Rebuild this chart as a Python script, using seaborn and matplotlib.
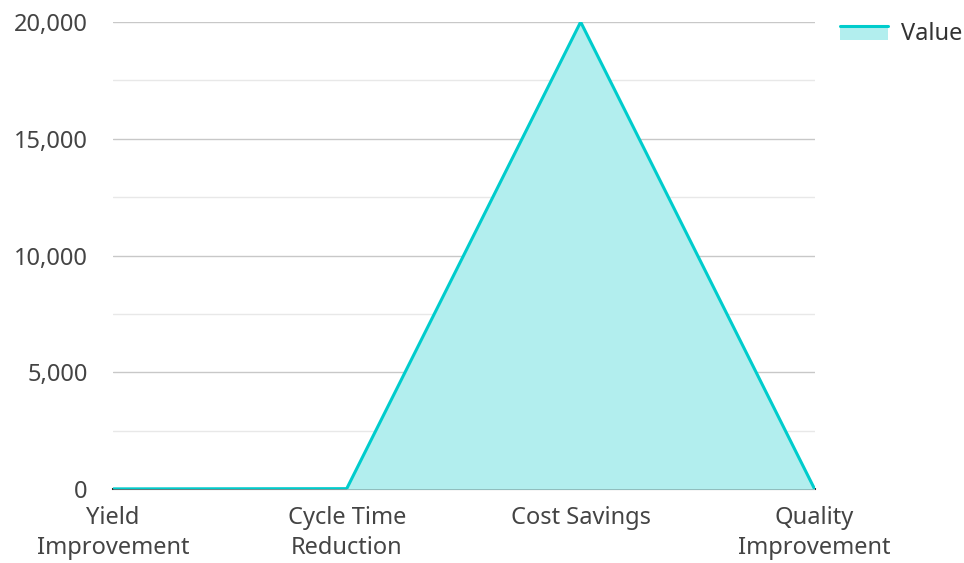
import matplotlib
matplotlib.use("Agg")
import matplotlib.pyplot as plt
import seaborn as sns
import pandas as pd
from matplotlib.lines import Line2D
from matplotlib.patches import Rectangle
from matplotlib.legend_handler import HandlerBase
from matplotlib.ticker import FuncFormatter, MultipleLocator

# data
categories = ["Yield\nImprovement", "Cycle Time\nReduction", "Cost Savings", "Quality\nImprovement"]
values = [15, 25, 20000, 12]

LINE = "#00cccc"
FILL = "#b2eeee"


class AreaHandler(HandlerBase):
    # legend key: light patch with the line along its top edge
    def create_artists(self, legend, orig, xd, yd, width, height, fontsize, trans):
        top = yd + height * 0.85
        rect = Rectangle((xd, yd), width, top - yd, facecolor=FILL, edgecolor="none", transform=trans)
        line = Line2D([xd, xd + width], [top, top], color=LINE, linewidth=2.2, transform=trans)
        return [rect, line]


sns.set_theme(style="white")
plt.rcParams["font.family"] = ["Noto Sans", "DejaVu Sans"]

df = pd.DataFrame({"pos": range(len(categories)), "Value": values})

fig = plt.figure(figsize=(9.64, 5.63), dpi=100)
ax = fig.add_axes([0.117, 0.131, 0.728, 0.830])

ax.fill_between(df["pos"], df["Value"], color=FILL, linewidth=0, zorder=2)
sns.lineplot(data=df, x="pos", y="Value", color=LINE, linewidth=2.2, ax=ax, zorder=3)

ax.set_xlim(0, len(categories) - 1)
ax.set_ylim(0, 20000)
ax.set_xticks(range(len(categories)))
ax.set_xticklabels(categories, linespacing=1.35)
ax.yaxis.set_major_locator(MultipleLocator(5000))
ax.yaxis.set_minor_locator(MultipleLocator(2500))
ax.yaxis.set_major_formatter(FuncFormatter(lambda v, p: f"{int(v):,}"))

ax.grid(axis="y", which="major", color="#c8c8c8", linewidth=1, zorder=0)
ax.grid(axis="y", which="minor", color="#e8e8e8", linewidth=1, zorder=0)
ax.set_axisbelow(True)
ax.tick_params(axis="both", which="both", length=0, labelsize=17, colors="#444444")
ax.tick_params(axis="y", pad=18)
ax.tick_params(axis="x", pad=12)
ax.set_xlabel("")
ax.set_ylabel("")

for side in ["top", "right", "left"]:
    ax.spines[side].set_visible(False)
ax.spines["bottom"].set_color("#333333")
ax.spines["bottom"].set_linewidth(1.5)
ax.spines["bottom"].set_zorder(1)

key = Rectangle((0, 0), 1, 1)
fig.legend([key], ["Value"], handler_map={Rectangle: AreaHandler()},
           loc="upper right", bbox_to_anchor=(1.02, 0.998),
           frameon=False, fontsize=17, handlelength=2.0, handletextpad=0.55,
           labelcolor="#333333")

fig.savefig("out.png", dpi=100)
